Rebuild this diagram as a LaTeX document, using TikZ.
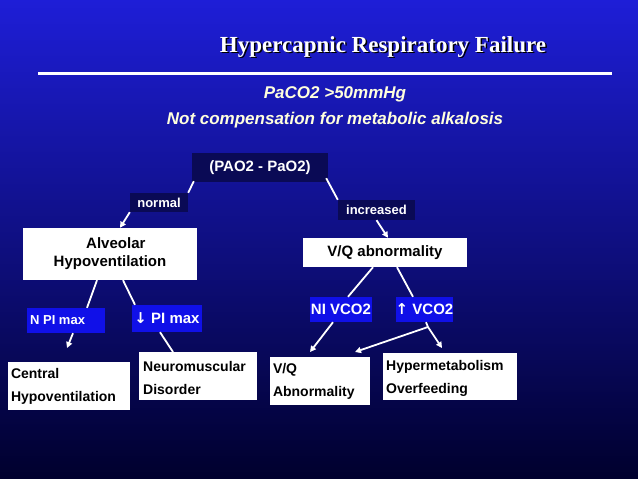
\documentclass[tikz,border=0pt]{standalone}
\usepackage{fontspec}
\setmainfont{Liberation Sans}
\newfontfamily\serifb{Liberation Serif}
\newfontfamily\arrowfont{DejaVu Sans}
\usetikzlibrary{arrows.meta}
\definecolor{navy}{HTML}{0A0A55}
\definecolor{bblue}{HTML}{1010E8}
\definecolor{subcol}{HTML}{FFFFDD}
\begin{document}
\begin{tikzpicture}[x=1pt,y=-1pt,
 box/.style={inner sep=0pt,font=\bfseries\fontsize{15}{18}\selectfont,align=left},
 wbox/.style={box,fill=white,text=black},
 nbox/.style={box,fill=navy,text=white},
 bbox/.style={box,fill=bblue,text=white},
 arr/.style={draw=white,line width=1.8pt,-{Triangle[length=6pt,width=6pt]}},
 ln/.style={draw=white,line width=1.8pt}]
\shade[top color={rgb,255:red,30;green,30;blue,215},bottom color={rgb,255:red,0;green,0;blue,45}] (0,0) rectangle (638,479);
\useasboundingbox (0,0) rectangle (638,479);
\node[font=\serifb\bfseries\fontsize{23}{26}\selectfont,text=black] at (384.5,48.5) {Hypercapnic Respiratory Failure};
\node[font=\serifb\bfseries\fontsize{23}{26}\selectfont,text=white] (title) at (383,47) {Hypercapnic Respiratory Failure};
\draw[white,line width=3pt] (38,73) -- (612,73);
\node[font=\bfseries\itshape\fontsize{17}{20}\selectfont,text=subcol] (s1) at (335,94) {PaCO2 >50mmHg};
\node[font=\bfseries\itshape\fontsize{17}{20}\selectfont,text=subcol] (s2) at (335,120) {Not compensation for metabolic alkalosis};
\node[nbox,minimum width=136pt,minimum height=29pt,align=center] (pao) at (260,167.5) {(PAO2 - PaO2)};
\node[nbox,font=\bfseries\fontsize{13}{15}\selectfont,minimum width=58pt,minimum height=19pt,align=center] (norm) at (159,202.5) {normal};
\node[nbox,font=\bfseries\fontsize{13}{15}\selectfont,minimum width=77pt,minimum height=20pt,align=center] (inc) at (376.5,210) {increased};
\node[wbox,minimum width=174pt,minimum height=52pt] (alv) at (110,254) {\hspace*{2em}\,Alveolar\\ Hypoventilation};
\node[wbox,minimum width=164pt,minimum height=29pt,align=center] (vq) at (385,252.5) {V/Q abnormality};
\node[bbox,font=\bfseries\fontsize{13}{15}\selectfont,minimum width=78pt,minimum height=25pt] (npi) at (66,320.5) {N PI max\hspace*{1.3em}};
\node[bbox,minimum width=70pt,minimum height=27pt,align=center] (dpi) at (167,318.5) {{\arrowfont\bfseries ↓} PI max};
\node[bbox,minimum width=62pt,minimum height=25pt,align=center] (nvc) at (341,309.5) {NI VCO2};
\node[bbox,minimum width=55pt,minimum height=25pt,align=center] (uvc) at (424.5,309.5) {{\arrowfont\bfseries ↑} VCO2};
\node[wbox,font=\bfseries\fontsize{14}{23}\selectfont,minimum width=122pt,minimum height=48pt,text width=116pt] (cen) at (69,386) {Central\\Hypoventilation};
\node[wbox,font=\bfseries\fontsize{14}{23}\selectfont,minimum width=118pt,minimum height=48pt,text width=110pt,anchor=north west,inner sep=0pt] (neu) at (139,352) {\rule{0pt}{13pt}Neuromuscular\\Disorder};
\node[wbox,font=\bfseries\fontsize{14}{23}\selectfont,minimum width=100pt,minimum height=48pt,text width=94pt] (vqa) at (320,381) {V/Q\\Abnormality};
\node[wbox,font=\bfseries\fontsize{14}{23}\selectfont,minimum width=134pt,minimum height=47pt,text width=128pt,anchor=north west] (hyp) at (383,353) {\rule{0pt}{13pt}Hypermetabolism\\Overfeeding};
\draw[ln] (pao.south west) ++(2,-1) -- (norm.north east);
\draw[arr] (norm.south west) -- (alv.north -| 120,0);
\draw[ln] (pao.south east) ++(-2,-4) -- (inc.north west);
\draw[arr] (inc.south) -- (vq.north -| 388,0);
\draw[ln] (alv.south -| 97,0) -- (npi.north -| 87,0);
\draw[arr] (npi.south -| 73,0) -- (67,348);
\draw[ln] (alv.south -| 123,0) -- (dpi.north -| 135,0);
\draw[ln] (dpi.south -| 160,0) -- (neu.north -| 173,0);
\draw[ln] (vq.south -| 373,0) -- (nvc.north -| 348,0);
\draw[arr] (nvc.south -| 333,0) -- (310,352);
\draw[ln] (vq.south -| 397,0) -- (uvc.north -| 413,0);
\coordinate (uv) at (428,327);
\draw[ln] (uvc.south -| 426,0) -- (uv);
\draw[arr] (uv) -- (355,352);
\draw[arr] (uv) -- (442,348);
\end{tikzpicture}
\end{document}
